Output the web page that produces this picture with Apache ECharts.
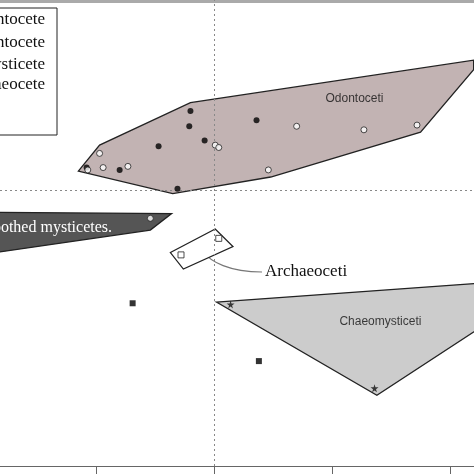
<!DOCTYPE html><html><head><meta charset="utf-8"><script src="https://cdn.jsdelivr.net/npm/echarts@6/dist/echarts.min.js"></script>
<style>html,body{margin:0;padding:0;background:#fff}#c{width:474px;height:474px}</style></head><body><div id="c"></div>
<script>
const odontocetiHull=[[-1.15,0.16],[-0.97,0.38],[-0.20,0.74],[2.20,1.10],[2.20,1.02],[1.75,0.49],[0.48,0.11],[-0.35,-0.03]];
const toothedHull=[[-1.85,-0.19],[-0.36,-0.20],[-0.54,-0.34],[-1.85,-0.53]];
const archaeocetiHull=[[-0.37,-0.53],[0.01,-0.33],[0.16,-0.48],[-0.26,-0.67]];
const chaeoHull=[[0.02,-0.95],[2.25,-0.79],[2.25,-1.17],[1.38,-1.74]];
const fossilOdonto=[[-0.20,0.67],[-0.21,0.54],[-0.47,0.37],[-0.08,0.42],[-0.80,0.17],[-1.08,0.19],[-0.31,0.01],[0.36,0.59]];
const modernOdonto=[[-0.97,0.31],[-0.94,0.19],[-0.73,0.20],[0.01,0.38],[0.04,0.36],[0.70,0.54],[1.27,0.51],[1.72,0.55],[0.46,0.17],[-1.07,0.17],[-0.54,-0.24]];
const archaeoPts=[[-0.28,-0.55],[0.04,-0.41]];
const mystiStars=[[0.14,-0.97],[1.36,-1.68]];
const blackSquares=[[-0.69,-0.96],[0.38,-1.45]];
const legendLabels=["Modern odontocete","Fossil odontocete","Fossil mysticete","Archaeocete"];
const xTicks=[-1,0,1,2];
const serif='"Liberation Serif","DejaVu Serif",serif';
function poly(data,fill,stroke){return{type:'custom',coordinateSystem:'cartesian2d',data:[0],z:1,
 renderItem:(p,api)=>({type:'polygon',shape:{points:data.map(d=>api.coord(d))},style:{fill:fill,stroke:stroke,lineWidth:1.3}})};}
const ch=echarts.init(document.getElementById('c'));
ch.setOption({animation:false,
grid:{left:0,right:0,top:0,bottom:8},
xAxis:{type:'value',min:-1.814,max:2.203,splitLine:{show:false},axisLabel:{show:false},
 axisLine:{onZero:false,lineStyle:{color:'#666'}},axisTick:{show:true,inside:false,length:8,customValues:xTicks,lineStyle:{color:'#666'}}},
yAxis:{type:'value',min:-2.339,max:1.61,show:false},
graphic:[
 {type:'rect',shape:{x:0,y:0,width:474,height:3},style:{fill:'#aaa'}},
 {type:'rect',shape:{x:-5,y:8,width:62,height:127},style:{fill:'#fff',stroke:'#222',lineWidth:1}},
 ...legendLabels.map((t,i)=>({type:'text',x:45,y:[20,43,65,85][i],style:{text:t,align:'right',verticalAlign:'middle',font:'17px '+serif,fill:'#111'}})),
 {type:'text',x:112,y:228,z:10,style:{text:'Toothed mysticetes.',align:'right',verticalAlign:'middle',font:'16px '+serif,fill:'#fff'}},
 {type:'text',x:265,y:272,style:{text:'Archaeoceti',align:'left',verticalAlign:'middle',font:'17px '+serif,fill:'#111'}},
 {type:'bezierCurve',shape:{x1:262,y1:272,cpx1:230,cpy1:272,cpx2:210,cpy2:262,x2:203,y2:251},style:{stroke:'#777',lineWidth:1.2,fill:null}}
],
series:[
 poly(odontocetiHull,'#c2b3b3','#222'),
 poly(toothedHull,'#555','#222'),
 poly(archaeocetiHull,'#fff','#222'),
 poly(chaeoHull,'#cccccc','#222'),
 {type:'line',data:[],markLine:{silent:true,symbol:'none',label:{show:false},lineStyle:{type:[2,3],color:'#888',width:1},data:[{xAxis:0},{yAxis:0}]}},
 {type:'scatter',data:fossilOdonto,symbol:'circle',symbolSize:6,itemStyle:{color:'#000'},z:5},
 {type:'scatter',data:modernOdonto,symbol:'circle',symbolSize:6,itemStyle:{color:'#fff',borderColor:'#222',borderWidth:1},z:5},
 {type:'scatter',data:archaeoPts,symbol:'rect',symbolSize:6,itemStyle:{color:'#fff',borderColor:'#222',borderWidth:1},z:5},
 {type:'scatter',data:mystiStars,symbol:'path://M50,0L61,35L98,35L68,57L79,91L50,70L21,91L32,57L2,35L39,35Z',symbolSize:8,itemStyle:{color:'#111'},z:5},
 {type:'scatter',data:blackSquares,symbol:'rect',symbolSize:6,itemStyle:{color:'#000'},z:5},
 {type:'scatter',data:[[1.19,0.77],[1.41,-1.12]],symbolSize:0,z:6,
  label:{show:true,position:'inside',formatter:p=>['Odontoceti','Chaeomysticeti'][p.dataIndex],font:'17px '+serif,color:'#111'}}
]});
</script></body></html>
